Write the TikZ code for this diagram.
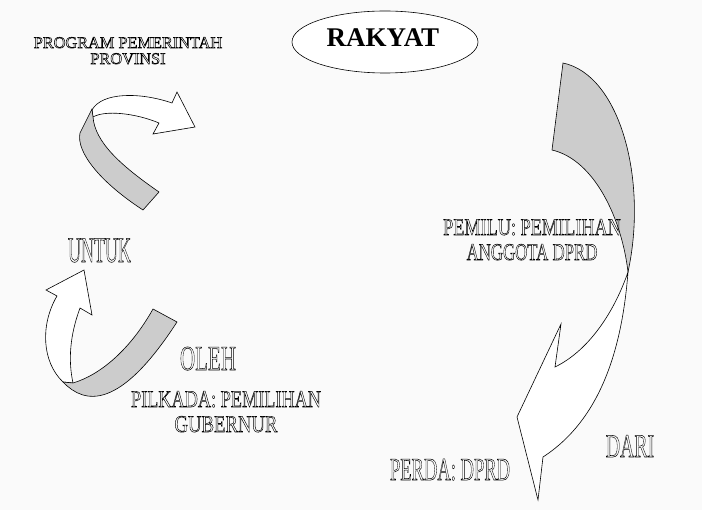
\documentclass[tikz,border=0pt]{standalone}
\usepackage{fontspec}
\setmainfont{Liberation Serif}
\definecolor{bg}{RGB}{250,250,250}
\definecolor{fold}{RGB}{204,204,204}
\newcommand\hollow[1]{\special{pdf:code q 1 Tr 0.55 w}#1\special{pdf:code Q}}
\newcommand\squeeze[2]{\scalebox{#1}[1]{\hollow{#2}}}
\tikzset{
  word/.style={inner sep=0pt, anchor=base, align=center},
  ribbon/.style={draw=black, line width=0.6pt, line join=miter},
}
\begin{document}
\begin{tikzpicture}[x=1pt,y=-1pt]
\fill[bg] (0,0) rectangle (702,510);
\useasboundingbox (0,0) rectangle (702,510);

\draw[ribbon, fill=white] (92,110) .. controls (102,92) and (140,92) .. (172,103) -- (177,92) -- (195,127) -- (153,134) -- (159,123) .. controls (135,113) and (105,110) .. (93,117) -- cycle;
\draw[ribbon, fill=fold] (92,109) -- (80,133) .. controls (76,152) and (100,182) .. (143,210) -- (159,192) .. controls (120,165) and (95,142) .. (93,117) -- cycle;

\draw[ribbon, fill=white] (84,270) -- (92,315) -- (80,308) .. controls (70,335) and (68,360) .. (73,383) -- (63,382) .. controls (42,362) and (40,325) .. (57,296) -- (46,290) -- cycle;
\draw[ribbon, fill=fold] (63,382) .. controls (85,405) and (120,410) .. (177,322) -- (153,309) .. controls (130,350) and (100,375) .. (73,383) -- cycle;

\draw[ribbon, fill=fold] (563,63) .. controls (620,75) and (648,180) .. (628,272) .. controls (622,220) and (595,160) .. (552,150) -- cycle;
\draw[ribbon, fill=white] (628,272) .. controls (615,310) and (590,350) .. (555,367) -- (561,324) -- (517,417) -- (538,500) -- (543,457) .. controls (600,420) and (622,350) .. (628,272) -- cycle;

\draw[ribbon, fill=white] (385,42) ellipse (93 and 31);
\node[word, font=\fontsize{27}{27}\bfseries\selectfont] (rakyat) at (383,47) {RAKYAT};

\node[word, font=\fontsize{16.3}{16}\selectfont] (program) at (128,64) {\hollow{PROGRAM PEMERINTAH}\\\hollow{PROVINSI}};
\node[word, font=\fontsize{36}{36}\selectfont] (untuk) at (99.5,262) {\squeeze{0.5}{UNTUK}};
\node[word, font=\fontsize{35}{35}\selectfont] (oleh) at (208,370) {\squeeze{0.6}{OLEH}};
\node[word, font=\fontsize{24}{25}\selectfont] (pilkada) at (226,432) {\squeeze{0.76}{PILKADA: PEMILIHAN}\\\squeeze{0.78}{GUBERNUR}};
\node[word, font=\fontsize{24}{25}\selectfont] (pemilu) at (532,260) {\squeeze{0.76}{PEMILU: PEMILIHAN}\\\squeeze{0.7}{ANGGOTA DPRD}};
\node[word, font=\fontsize{32}{32}\selectfont] (perda) at (450,480) {\squeeze{0.58}{PERDA: DPRD}};
\node[word, font=\fontsize{33}{33}\selectfont] (dari) at (630,457) {\squeeze{0.6}{DARI}};
\end{tikzpicture}
\end{document}
